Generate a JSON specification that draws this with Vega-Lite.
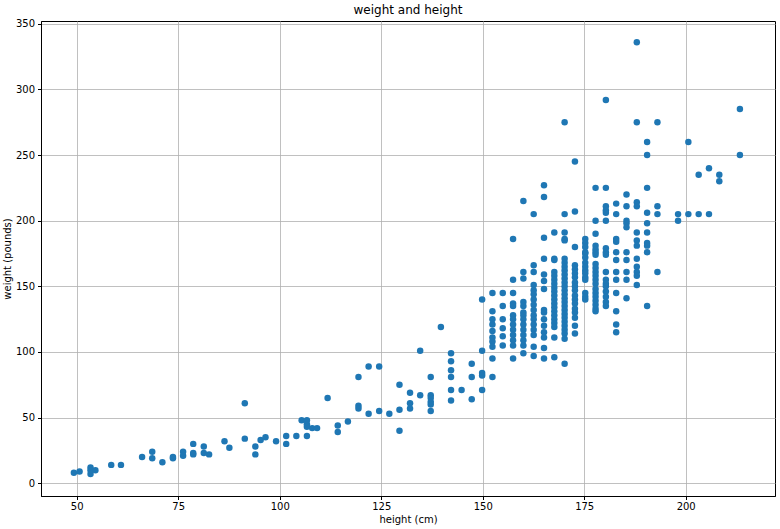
{
  "$schema": "https://vega.github.io/schema/vega-lite/v6.json",
  "autosize": "none",
  "padding": {"left": 41, "top": 21, "right": 5, "bottom": 33},
  "width": 734,
  "height": 475,
  "background": "white",
  "title": {"text": "weight and height", "fontSize": 12, "fontWeight": "normal", "font": "DejaVu Sans", "color": "black", "offset": 2},
  "config": {
    "view": {"stroke": "black", "strokeWidth": 1},
    "font": "DejaVu Sans",
    "axis": {
      "labelFont": "DejaVu Sans", "labelFontSize": 10, "labelColor": "black",
      "titleFont": "DejaVu Sans", "titleFontSize": 10, "titleFontWeight": "normal", "titleColor": "black",
      "tickColor": "black", "tickSize": 3.5, "domainColor": "black",
      "grid": true, "gridColor": "#b0b0b0", "gridWidth": 0.8
    }
  },
  "data": {"values": [
    {"h": 49.3, "w": 8}, {"h": 50.7, "w": 9}, {"h": 53.4, "w": 12}, {"h": 53.4, "w": 10}, {"h": 53.4, "w": 7},
    {"h": 54.6, "w": 10}, {"h": 58.5, "w": 14}, {"h": 60.9, "w": 14}, {"h": 66.1, "w": 20}, {"h": 68.6, "w": 24},
    {"h": 68.6, "w": 19}, {"h": 71.1, "w": 16}, {"h": 73.7, "w": 20}, {"h": 73.7, "w": 19}, {"h": 76.2, "w": 24},
    {"h": 76.2, "w": 21}, {"h": 78.7, "w": 30}, {"h": 78.7, "w": 23}, {"h": 78.7, "w": 22}, {"h": 81.3, "w": 28},
    {"h": 81.3, "w": 23}, {"h": 82.6, "w": 22}, {"h": 86.4, "w": 32}, {"h": 87.6, "w": 27}, {"h": 91.4, "w": 61},
    {"h": 91.4, "w": 34}, {"h": 94, "w": 28}, {"h": 94, "w": 22}, {"h": 95.3, "w": 33}, {"h": 96.5, "w": 35},
    {"h": 99.1, "w": 32}, {"h": 101.6, "w": 36}, {"h": 101.6, "w": 30}, {"h": 104.1, "w": 36}, {"h": 105.4, "w": 48},
    {"h": 106.7, "w": 48}, {"h": 106.7, "w": 45}, {"h": 106.7, "w": 43}, {"h": 106.7, "w": 36}, {"h": 108, "w": 42},
    {"h": 109.2, "w": 42}, {"h": 111.8, "w": 65}, {"h": 114.3, "w": 44}, {"h": 114.3, "w": 39}, {"h": 116.8, "w": 47},
    {"h": 119.4, "w": 81}, {"h": 119.4, "w": 59}, {"h": 119.4, "w": 57}, {"h": 121.9, "w": 89}, {"h": 121.9, "w": 53},
    {"h": 124.5, "w": 89}, {"h": 124.5, "w": 55}, {"h": 127, "w": 53}, {"h": 129.5, "w": 75}, {"h": 129.5, "w": 56},
    {"h": 129.5, "w": 40}, {"h": 132.1, "w": 69}, {"h": 132.1, "w": 61}, {"h": 132.1, "w": 57}, {"h": 134.6, "w": 101},
    {"h": 134.6, "w": 67}, {"h": 137.2, "w": 81}, {"h": 137.2, "w": 67}, {"h": 137.2, "w": 65}, {"h": 137.2, "w": 62},
    {"h": 137.2, "w": 60}, {"h": 137.2, "w": 55}, {"h": 139.7, "w": 119}, {"h": 142.2, "w": 99}, {"h": 142.2, "w": 93},
    {"h": 142.2, "w": 86}, {"h": 142.2, "w": 81}, {"h": 142.2, "w": 71}, {"h": 142.2, "w": 63}, {"h": 144.8, "w": 71},
    {"h": 147.3, "w": 91}, {"h": 147.3, "w": 81}, {"h": 147.3, "w": 64},
    {"h": 149.86, "w": 140}, {"h": 149.86, "w": 101}, {"h": 149.86, "w": 84}, {"h": 149.86, "w": 82}, {"h": 149.86, "w": 71},
    {"h": 152.4, "w": 145}, {"h": 152.4, "w": 131}, {"h": 152.4, "w": 125}, {"h": 152.4, "w": 121}, {"h": 152.4, "w": 116},
    {"h": 152.4, "w": 111}, {"h": 152.4, "w": 108}, {"h": 152.4, "w": 104}, {"h": 152.4, "w": 95}, {"h": 152.4, "w": 81},
    {"h": 154.94, "w": 145}, {"h": 154.94, "w": 135}, {"h": 154.94, "w": 125}, {"h": 154.94, "w": 118}, {"h": 154.94, "w": 112},
    {"h": 154.94, "w": 105},
    {"h": 157.48, "w": 186}, {"h": 157.48, "w": 155}, {"h": 157.48, "w": 145}, {"h": 157.48, "w": 137}, {"h": 157.48, "w": 135},
    {"h": 157.48, "w": 128}, {"h": 157.48, "w": 125}, {"h": 157.48, "w": 121}, {"h": 157.48, "w": 117}, {"h": 157.48, "w": 113},
    {"h": 157.48, "w": 109}, {"h": 157.48, "w": 105}, {"h": 157.48, "w": 95},
    {"h": 160.02, "w": 215}, {"h": 160.02, "w": 161}, {"h": 160.02, "w": 156}, {"h": 160.02, "w": 138}, {"h": 160.02, "w": 135},
    {"h": 160.02, "w": 130}, {"h": 160.02, "w": 128}, {"h": 160.02, "w": 125}, {"h": 160.02, "w": 121}, {"h": 160.02, "w": 117},
    {"h": 160.02, "w": 113}, {"h": 160.02, "w": 109}, {"h": 160.02, "w": 105}, {"h": 160.02, "w": 99},
    {"h": 162.56, "w": 205}, {"h": 162.56, "w": 166}, {"h": 162.56, "w": 161}, {"h": 162.56, "w": 151}, {"h": 162.56, "w": 147},
    {"h": 162.56, "w": 144}, {"h": 162.56, "w": 140}, {"h": 162.56, "w": 136}, {"h": 162.56, "w": 132}, {"h": 162.56, "w": 128},
    {"h": 162.56, "w": 125}, {"h": 162.56, "w": 121}, {"h": 162.56, "w": 117}, {"h": 162.56, "w": 113}, {"h": 162.56, "w": 104},
    {"h": 162.56, "w": 97},
    {"h": 165.1, "w": 227}, {"h": 165.1, "w": 218}, {"h": 165.1, "w": 187}, {"h": 165.1, "w": 171}, {"h": 165.1, "w": 159},
    {"h": 165.1, "w": 154}, {"h": 165.1, "w": 148}, {"h": 165.1, "w": 132}, {"h": 165.1, "w": 130}, {"h": 165.1, "w": 125},
    {"h": 165.1, "w": 120}, {"h": 165.1, "w": 115}, {"h": 165.1, "w": 111}, {"h": 165.1, "w": 103}, {"h": 165.1, "w": 95},
    {"h": 167.64, "w": 191}, {"h": 167.64, "w": 171}, {"h": 167.64, "w": 170}, {"h": 167.64, "w": 161}, {"h": 167.64, "w": 158},
    {"h": 167.64, "w": 155}, {"h": 167.64, "w": 152}, {"h": 167.64, "w": 149}, {"h": 167.64, "w": 146}, {"h": 167.64, "w": 143},
    {"h": 167.64, "w": 140}, {"h": 167.64, "w": 137}, {"h": 167.64, "w": 134}, {"h": 167.64, "w": 131}, {"h": 167.64, "w": 128},
    {"h": 167.64, "w": 125}, {"h": 167.64, "w": 122}, {"h": 167.64, "w": 119}, {"h": 167.64, "w": 111}, {"h": 167.64, "w": 96},
    {"h": 170.18, "w": 275}, {"h": 170.18, "w": 205}, {"h": 170.18, "w": 191}, {"h": 170.18, "w": 186}, {"h": 170.18, "w": 185},
    {"h": 170.18, "w": 171}, {"h": 170.18, "w": 168}, {"h": 170.18, "w": 165}, {"h": 170.18, "w": 162}, {"h": 170.18, "w": 159},
    {"h": 170.18, "w": 156}, {"h": 170.18, "w": 153}, {"h": 170.18, "w": 150}, {"h": 170.18, "w": 147}, {"h": 170.18, "w": 144},
    {"h": 170.18, "w": 141}, {"h": 170.18, "w": 138}, {"h": 170.18, "w": 135}, {"h": 170.18, "w": 132}, {"h": 170.18, "w": 129},
    {"h": 170.18, "w": 126}, {"h": 170.18, "w": 123}, {"h": 170.18, "w": 120}, {"h": 170.18, "w": 117}, {"h": 170.18, "w": 114},
    {"h": 170.18, "w": 110}, {"h": 170.18, "w": 91},
    {"h": 172.72, "w": 245}, {"h": 172.72, "w": 207}, {"h": 172.72, "w": 180}, {"h": 172.72, "w": 166}, {"h": 172.72, "w": 163},
    {"h": 172.72, "w": 160}, {"h": 172.72, "w": 157}, {"h": 172.72, "w": 153}, {"h": 172.72, "w": 150}, {"h": 172.72, "w": 147},
    {"h": 172.72, "w": 143}, {"h": 172.72, "w": 140}, {"h": 172.72, "w": 137}, {"h": 172.72, "w": 133}, {"h": 172.72, "w": 130},
    {"h": 172.72, "w": 126}, {"h": 172.72, "w": 120}, {"h": 172.72, "w": 114},
    {"h": 175.26, "w": 186}, {"h": 175.26, "w": 183}, {"h": 175.26, "w": 180}, {"h": 175.26, "w": 176}, {"h": 175.26, "w": 175},
    {"h": 175.26, "w": 172}, {"h": 175.26, "w": 168}, {"h": 175.26, "w": 165}, {"h": 175.26, "w": 162}, {"h": 175.26, "w": 160},
    {"h": 175.26, "w": 157}, {"h": 175.26, "w": 155}, {"h": 175.26, "w": 145}, {"h": 175.26, "w": 142}, {"h": 175.26, "w": 140},
    {"h": 177.8, "w": 225}, {"h": 177.8, "w": 200}, {"h": 177.8, "w": 190}, {"h": 177.8, "w": 181}, {"h": 177.8, "w": 178},
    {"h": 177.8, "w": 176}, {"h": 177.8, "w": 174}, {"h": 177.8, "w": 167}, {"h": 177.8, "w": 164}, {"h": 177.8, "w": 161},
    {"h": 177.8, "w": 158}, {"h": 177.8, "w": 155}, {"h": 177.8, "w": 152}, {"h": 177.8, "w": 148}, {"h": 177.8, "w": 145},
    {"h": 177.8, "w": 142}, {"h": 177.8, "w": 139}, {"h": 177.8, "w": 136}, {"h": 177.8, "w": 133}, {"h": 177.8, "w": 131},
    {"h": 180.34, "w": 292}, {"h": 180.34, "w": 225}, {"h": 180.34, "w": 211}, {"h": 180.34, "w": 208}, {"h": 180.34, "w": 206},
    {"h": 180.34, "w": 200}, {"h": 180.34, "w": 179}, {"h": 180.34, "w": 176}, {"h": 180.34, "w": 174}, {"h": 180.34, "w": 161},
    {"h": 180.34, "w": 155}, {"h": 180.34, "w": 152}, {"h": 180.34, "w": 150}, {"h": 180.34, "w": 146}, {"h": 180.34, "w": 142},
    {"h": 180.34, "w": 138}, {"h": 180.34, "w": 135},
    {"h": 182.88, "w": 213}, {"h": 182.88, "w": 205}, {"h": 182.88, "w": 186}, {"h": 182.88, "w": 184}, {"h": 182.88, "w": 176},
    {"h": 182.88, "w": 170}, {"h": 182.88, "w": 161}, {"h": 182.88, "w": 155}, {"h": 182.88, "w": 145}, {"h": 182.88, "w": 131},
    {"h": 182.88, "w": 121}, {"h": 182.88, "w": 115},
    {"h": 185.42, "w": 220}, {"h": 185.42, "w": 211}, {"h": 185.42, "w": 200}, {"h": 185.42, "w": 198}, {"h": 185.42, "w": 195},
    {"h": 185.42, "w": 176}, {"h": 185.42, "w": 170}, {"h": 185.42, "w": 161}, {"h": 185.42, "w": 155}, {"h": 185.42, "w": 141},
    {"h": 187.96, "w": 336}, {"h": 187.96, "w": 275}, {"h": 187.96, "w": 214}, {"h": 187.96, "w": 211}, {"h": 187.96, "w": 191},
    {"h": 187.96, "w": 185}, {"h": 187.96, "w": 181}, {"h": 187.96, "w": 171}, {"h": 187.96, "w": 165}, {"h": 187.96, "w": 161},
    {"h": 187.96, "w": 158}, {"h": 187.96, "w": 151},
    {"h": 190.5, "w": 260}, {"h": 190.5, "w": 250}, {"h": 190.5, "w": 225}, {"h": 190.5, "w": 206}, {"h": 190.5, "w": 198},
    {"h": 190.5, "w": 191}, {"h": 190.5, "w": 183}, {"h": 190.5, "w": 181}, {"h": 190.5, "w": 176}, {"h": 190.5, "w": 135},
    {"h": 193.04, "w": 275}, {"h": 193.04, "w": 211}, {"h": 193.04, "w": 205}, {"h": 193.04, "w": 161},
    {"h": 198.12, "w": 205}, {"h": 198.12, "w": 200}, {"h": 200.66, "w": 260}, {"h": 200.66, "w": 205},
    {"h": 203.2, "w": 235}, {"h": 203.2, "w": 205}, {"h": 205.74, "w": 240}, {"h": 205.74, "w": 205},
    {"h": 208.28, "w": 235}, {"h": 208.28, "w": 230}, {"h": 213.36, "w": 285}, {"h": 213.36, "w": 250}
  ]},
  "mark": {"type": "circle", "color": "#1f77b4", "opacity": 1, "size": 42},
  "encoding": {
    "x": {
      "field": "h", "type": "quantitative",
      "scale": {"domain": [41.2, 222], "nice": false, "zero": false},
      "axis": {"title": "height (cm)", "values": [50, 75, 100, 125, 150, 175, 200], "labelPadding": 2, "titlePadding": 3}
    },
    "y": {
      "field": "w", "type": "quantitative",
      "scale": {"domain": [-9.7, 352.1], "nice": false, "zero": false},
      "axis": {"title": "weight (pounds)", "values": [0, 50, 100, 150, 200, 250, 300, 350], "labelPadding": 3, "titlePadding": 3}
    }
  }
}
